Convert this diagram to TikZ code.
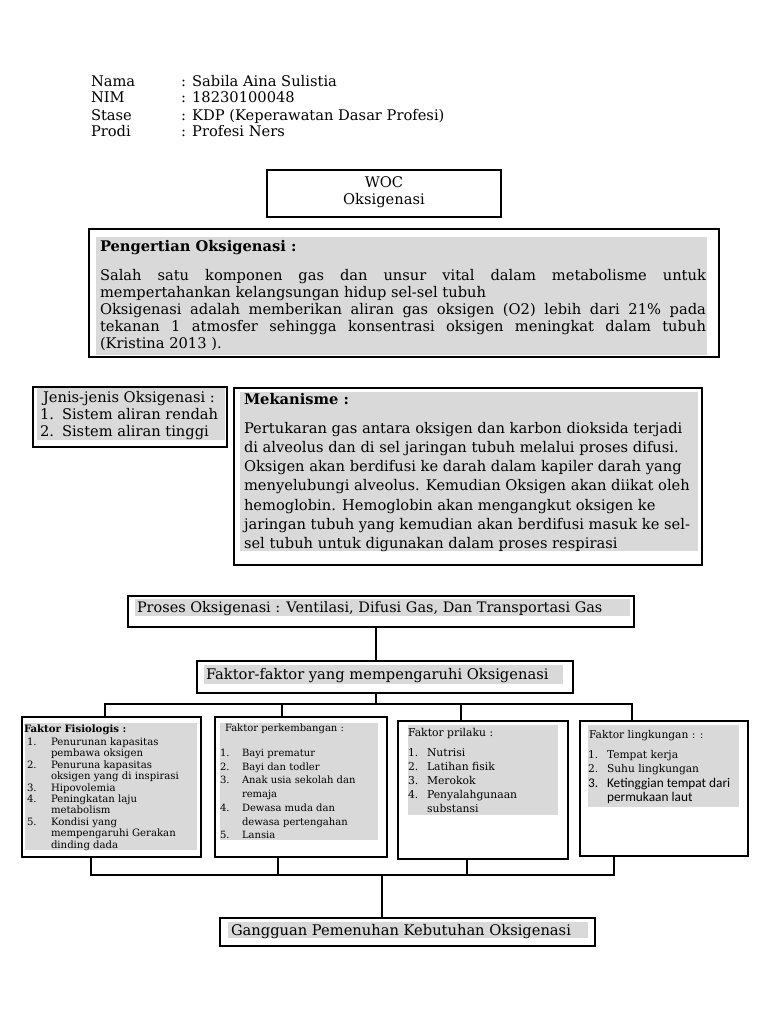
\documentclass[tikz,border=0pt]{standalone}
\usepackage{fontspec}
\setmainfont{DejaVu Serif}
\newfontfamily\calib{Carlito}
\usetikzlibrary{fit}
\definecolor{hlgray}{HTML}{D9D9D9}
\begin{document}
\begin{tikzpicture}[x=0.75pt,y=-0.75pt,
  box/.style={draw=black, line width=0.95pt, inner sep=0pt, outer sep=0pt},
  txt/.style={anchor=base west, inner sep=0pt, outer sep=0pt},
  ctxt/.style={anchor=base, inner sep=0pt, outer sep=0pt},
  conn/.style={draw=black, line width=1.1pt},
  f11/.style={font=\fontsize{11}{13}\selectfont},
  f11b/.style={font=\fontsize{11}{13}\selectfont\bfseries},
  fpro/.style={font=\fontsize{10.85}{13}\selectfont},
  ffis/.style={font=\fontsize{7.6}{9}\selectfont},
  ffisb/.style={font=\fontsize{7.6}{9}\selectfont\bfseries},
  fper/.style={font=\fontsize{7.5}{9}\selectfont},
  fpri/.style={font=\fontsize{8.1}{10}\selectfont},
  flin/.style={font=\fontsize{8}{10}\selectfont},
  fcal/.style={font=\fontsize{10}{12}\selectfont\calib},
]
\useasboundingbox (0,0) rectangle (768,1024);
\fill[white] (0,0) rectangle (768,1024);

% highlight fills
\fill[hlgray] (96,237) rectangle (707,355);
\fill[hlgray] (37,388) rectangle (225,440);
\fill[hlgray] (240,392) rectangle (698,551);
\fill[hlgray] (135,599) rectangle (630,616);
\fill[hlgray] (204,665) rectangle (563,684);
\fill[hlgray] (25,723) rectangle (197,850);
\fill[hlgray] (220,723) rectangle (378,840);
\fill[hlgray] (408,725) rectangle (558,815);
\fill[hlgray] (588,725) rectangle (739,807);
\fill[hlgray] (228,922) rectangle (588,938);

% boxes
\node[box, fit={(267,170) (501,217)}] (woc) {};
\node[box, fit={(89,229) (719,357)}] (peng) {};
\node[box, fit={(33,387) (227,447)}] (jenis) {};
\node[box, fit={(234,388) (702,565)}] (mek) {};
\node[box, fit={(128,596) (634,627)}] (proses) {};
\node[box, fit={(197,661) (573,693)}] (faktor) {};
\node[box, fit={(22,717) (201,857)}] (fis) {};
\node[box, fit={(215,717) (387,857)}] (perk) {};
\node[box, fit={(398,721) (568,859)}] (pril) {};
\node[box, fit={(580,721) (748,856)}] (ling) {};
\node[box, fit={(220,918) (595,946)}] (gang) {};

% header
\node[txt,f11] (hn1) at (91,86) {Nama};
\node[txt,f11] (hn2) at (91,103) {NIM};
\node[txt,f11] (hn3) at (91,120) {Stase};
\node[txt,f11] (hn4) at (91,137) {Prodi};
\node[txt,f11] (hv1) at (181,86) {: Sabila Aina Sulistia};
\node[txt,f11] (hv2) at (181,103) {: 18230100048};
\node[txt,f11] (hv3) at (181,120) {: KDP (Keperawatan Dasar Profesi)};
\node[txt,f11] (hv4) at (181,137) {: Profesi Ners};

% WOC
\node[ctxt,f11] (woc1) at (384,187) {WOC};
\node[ctxt,f11] (woc2) at (384,204) {Oksigenasi};

% Pengertian
\node[txt,f11b] (pt) at (100,251) {Pengertian Oksigenasi :};
\node[txt,f11] (p1) at (100,280) {\makebox[454.5pt][s]{Salah satu komponen gas dan unsur vital dalam metabolisme untuk}};
\node[txt,f11] (p2) at (100,297) {mempertahankan kelangsungan hidup sel-sel tubuh};
\node[txt,f11] (p3) at (100,314) {\makebox[454.5pt][s]{Oksigenasi adalah memberikan aliran gas oksigen (O2) lebih dari 21\% pada}};
\node[txt,f11] (p4) at (100,331) {\makebox[454.5pt][s]{tekanan 1 atmosfer sehingga konsentrasi oksigen meningkat dalam tubuh}};
\node[txt,f11] (p5) at (100,348) {(Kristina 2013 ).};

% Jenis
\node[txt,f11] (jt) at (43,402) {Jenis-jenis Oksigenasi :};
\node[txt,f11] (jn1) at (40,419) {1.};
\node[txt,f11] (jn2) at (40,436) {2.};
\node[txt,f11] (jt1) at (62,419) {Sistem aliran rendah};
\node[txt,f11] (jt2) at (62,436) {Sistem aliran tinggi};

% Mekanisme
\node[txt,f11b] (mt) at (244,404) {Mekanisme :};
\foreach \t [count=\i from 0] in {
  {Pertukaran gas antara oksigen dan karbon dioksida terjadi},
  {di alveolus dan di sel jaringan tubuh melalui proses difusi.},
  {Oksigen akan berdifusi ke darah dalam kapiler darah yang},
  {menyelubungi alveolus. Kemudian Oksigen akan diikat oleh},
  {hemoglobin. Hemoglobin akan mengangkut oksigen ke},
  {jaringan tubuh yang kemudian akan berdifusi masuk ke sel-},
  {sel tubuh untuk digunakan dalam proses respirasi}}
  \node[txt,f11] (m\i) at (244,{433+\i*19.3}) {\t};

% Proses, Faktor, Gangguan
\node[txt,fpro] (prt) at (137,612) {Proses Oksigenasi : Ventilasi, Difusi Gas, Dan Transportasi Gas};
\node[txt,f11] (fkt) at (206,679) {Faktor-faktor yang mempengaruhi Oksigenasi};
\node[txt,f11] (gt) at (231,935) {Gangguan Pemenuhan Kebutuhan Oksigenasi};

% Fisiologis
\node[txt,ffisb] (fist) at (24,732) {Faktor Fisiologis :};
\foreach \n/\k in {1/0,2/2,3/4,4/5,5/7}
  \node[txt,ffis] (fisn\n) at (27,{745.4+\k*11.4}) {\n.};
\foreach \t [count=\i from 0] in {Penurunan kapasitas, pembawa oksigen, Penuruna kapasitas, oksigen yang di inspirasi, Hipovolemia, Peningkatan laju, metabolism, Kondisi yang, mempengaruhi Gerakan, dinding dada}
  \node[txt,ffis] (fisl\i) at (51,{745.4+\i*11.4}) {\t};

% Perkembangan
\node[txt,fper] (perkt) at (225,731.5) {Faktor perkembangan :};
\foreach \n/\k in {1/0,2/1,3/2,4/4,5/6}
  \node[txt,fper] (perkn\n) at (220,{756.5+\k*13.7}) {\n.};
\foreach \t [count=\i from 0] in {Bayi prematur, Bayi dan todler, Anak usia sekolah dan, remaja, Dewasa muda dan, dewasa pertengahan, Lansia}
  \node[txt,fper] (perkl\i) at (242,{756.5+\i*13.7}) {\t};

% Prilaku
\node[txt,fpri] (prit) at (408,736.5) {Faktor prilaku :};
\foreach \n/\k in {1/0,2/1,3/2,4/3}
  \node[txt,fpri] (prin\n) at (408,{756.5+\k*14}) {\n.};
\foreach \t [count=\i from 0] in {Nutrisi, Latihan fisik, Merokok, Penyalahgunaan, substansi}
  \node[txt,fpri] (pril\i) at (427,{756.5+\i*14}) {\t};

% Lingkungan
\node[txt,flin] (lint) at (589,738.5) {Faktor lingkungan : :};
\node[txt,flin] (linn1) at (588,758.5) {1.};
\node[txt,flin] (linn2) at (588,772.5) {2.};
\node[txt,fcal] (linn3) at (588,787.5) {3.};
\node[txt,flin] (linl1) at (607,758.5) {Tempat kerja};
\node[txt,flin] (linl2) at (607,772.5) {Suhu lingkungan};
\node[txt,fcal] (linl3) at (607,787.5) {Ketinggian tempat dari};
\node[txt,fcal] (linl4) at (607,801.5) {permukaan laut};

% connectors
\coordinate (c1) at (376,0);
\coordinate (bus1) at (0,704);
\coordinate (dt1) at (105,0);
\coordinate (dt2) at (282,0);
\coordinate (dt3) at (461,0);
\coordinate (dt4) at (632,0);
\coordinate (bus2) at (0,875);
\coordinate (db1) at (91,0);
\coordinate (db2) at (278,0);
\coordinate (db3) at (467,0);
\coordinate (db4) at (614,0);
\coordinate (c2) at (382,0);

\draw[conn] (proses.south -| c1) -- (faktor.north -| c1);
\draw[conn] (faktor.south -| c1) -- (c1 |- bus1);
\draw[conn] (fis.north -| dt1) -- (dt1 |- bus1) -- (dt4 |- bus1) -- (ling.north -| dt4);
\draw[conn] (perk.north -| dt2) -- (dt2 |- bus1);
\draw[conn] (pril.north -| dt3) -- (dt3 |- bus1);

\draw[conn] (fis.south -| db1) -- (db1 |- bus2) -- (db4 |- bus2) -- (ling.south -| db4);
\draw[conn] (perk.south -| db2) -- (db2 |- bus2);
\draw[conn] (pril.south -| db3) -- (db3 |- bus2);
\draw[conn] (c2 |- bus2) -- (gang.north -| c2);
\end{tikzpicture}
\end{document}
